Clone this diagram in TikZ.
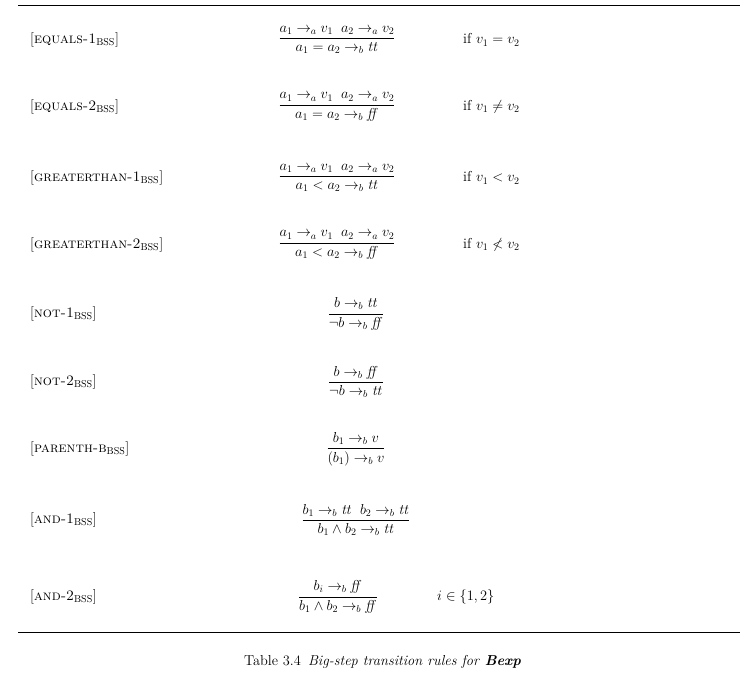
\documentclass[tikz,border=0pt]{standalone}
\usepackage{amsmath,amssymb}
\begin{document}
\begin{tikzpicture}[x=1pt,y=-1pt,
  every node/.style={font=\Large, inner sep=0pt},
  lab/.style={anchor=west},
  rulefr/.style={anchor=center},
  cond/.style={anchor=west}]
\useasboundingbox (0,0) rectangle (747,683);
\newcommand{\ra}[1]{\mathrel{\to_{#1}}}
\newcommand{\tto}{\mathit{tt}}
\newcommand{\ffo}{\mathit{ff}}
\draw[line width=0.9pt] (18,5) -- (740,5);
\draw[line width=0.9pt] (18,632) -- (740,632);
\node[lab] (l1) at (30,40) {[\textsc{equals-1}$_{\mathrm{BSS}}$]};
\node[rulefr] (r1) at (337,40) {$\dfrac{a_1 \ra{a} v_1\;\; a_2 \ra{a} v_2}{a_1 = a_2 \ra{b} \tto}$};
\node[cond] (c1) at (463,40) {if $v_1 = v_2$};
\node[lab] (l2) at (30,107) {[\textsc{equals-2}$_{\mathrm{BSS}}$]};
\node[rulefr] (r2) at (337,107) {$\dfrac{a_1 \ra{a} v_1\;\; a_2 \ra{a} v_2}{a_1 = a_2 \ra{b} \ffo}$};
\node[cond] (c2) at (463,107) {if $v_1 \neq v_2$};
\node[lab] (l3) at (30,178) {[\textsc{greaterthan-1}$_{\mathrm{BSS}}$]};
\node[rulefr] (r3) at (337,178) {$\dfrac{a_1 \ra{a} v_1\;\; a_2 \ra{a} v_2}{a_1 < a_2 \ra{b} \tto}$};
\node[cond] (c3) at (463,178) {if $v_1 < v_2$};
\node[lab] (l4) at (30,245) {[\textsc{greaterthan-2}$_{\mathrm{BSS}}$]};
\node[rulefr] (r4) at (337,245) {$\dfrac{a_1 \ra{a} v_1\;\; a_2 \ra{a} v_2}{a_1 < a_2 \ra{b} \ffo}$};
\node[cond] (c4) at (463,245) {if $v_1 \not< v_2$};
\node[lab] (l5) at (30,314) {[\textsc{not-1}$_{\mathrm{BSS}}$]};
\node[rulefr] (r5) at (356,314) {$\dfrac{b \ra{b} \tto}{\neg b \ra{b} \ffo}$};
\node[lab] (l6) at (30,382) {[\textsc{not-2}$_{\mathrm{BSS}}$]};
\node[rulefr] (r6) at (356,382) {$\dfrac{b \ra{b} \ffo}{\neg b \ra{b} \tto}$};
\node[lab] (l7) at (30,449) {[\textsc{parenth-b}$_{\mathrm{BSS}}$]};
\node[rulefr] (r7) at (356,449) {$\dfrac{b_1 \ra{b} v}{(b_1) \ra{b} v}$};
\node[lab] (l8) at (30,520) {[\textsc{and-1}$_{\mathrm{BSS}}$]};
\node[rulefr] (r8) at (356,520) {$\dfrac{b_1 \ra{b} \tto\;\; b_2 \ra{b} \tto}{b_1 \wedge b_2 \ra{b} \tto}$};
\node[lab] (l9) at (30,597) {[\textsc{and-2}$_{\mathrm{BSS}}$]};
\node[rulefr] (r9) at (338,597) {$\dfrac{b_i \ra{b} \ffo}{b_1 \wedge b_2 \ra{b} \ffo}$};
\node[cond] (c9) at (437,597) {$i \in \{1,2\}$};
\node (cap) at (383,662) {Table 3.4\enspace \textit{Big-step transition rules for} $\boldsymbol{\mathit{Bexp}}$};
\end{tikzpicture}
\end{document}
